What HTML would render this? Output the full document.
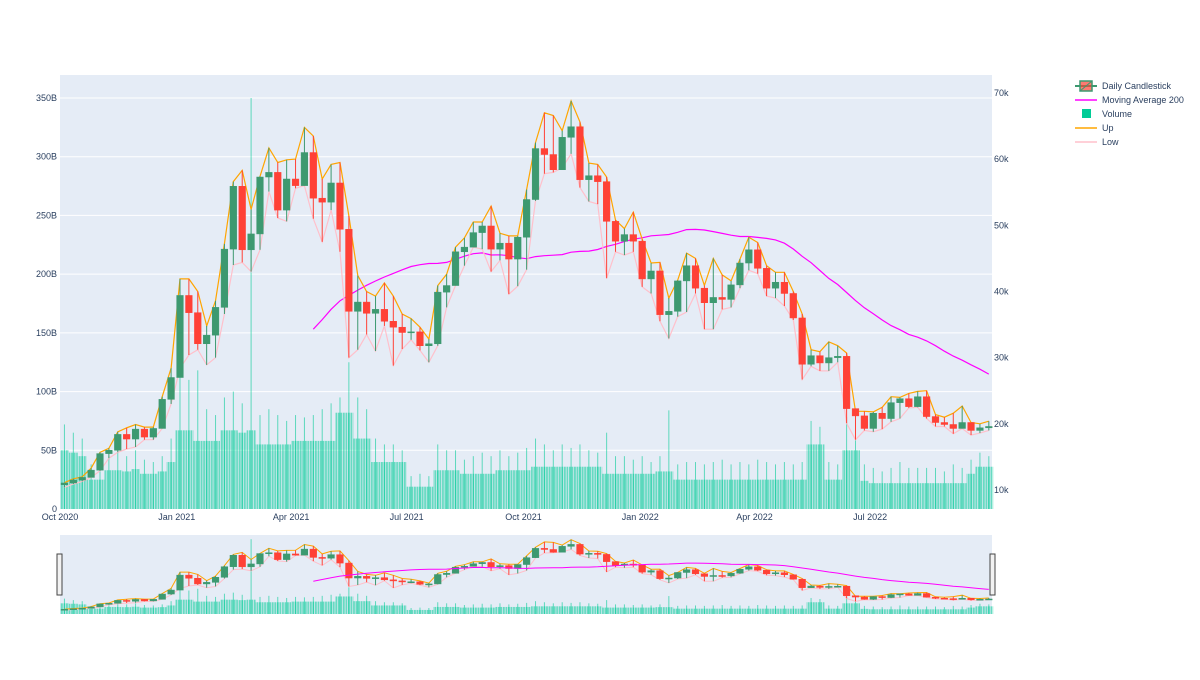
<!DOCTYPE html>
<html><head><meta charset="utf-8">
<style>
body{margin:0;background:#fff;font-family:"Liberation Sans",Arial,sans-serif;}
svg text{font-family:"Liberation Sans",Arial,sans-serif;fill:#2a3f5f;font-size:9px;}
</style></head>
<body>
<svg id="chart" width="1200" height="675" xmlns="http://www.w3.org/2000/svg">
<defs>
<pattern id="stripes" patternUnits="userSpaceOnUse" width="2.54" height="10">
<rect x="0" y="0" width="1.9" height="10" fill="#00cc96" fill-opacity="0.55"/>
</pattern>
</defs>
<rect x="60" y="75" width="932" height="434" fill="#e5ecf6"/>
<rect x="60" y="535" width="932" height="79" fill="#e5ecf6"/>
<g id="grid"></g>
<g id="vol"></g>
<g id="ma"></g>
<g id="bands"></g>
<g id="candles"></g>
<g id="slider"></g>
<g id="axes"></g>
<rect x="57" y="554" width="5" height="41" fill="#f2f2f2" stroke="#444" stroke-width="1"/>
<rect x="990" y="554" width="5" height="41" fill="#f2f2f2" stroke="#444" stroke-width="1"/>
<g>
 <g>
  <line x1="1075" y1="86" x2="1097" y2="86" stroke="#3D9970" stroke-width="2"/>
  <rect x="1080" y="81" width="12" height="10" fill="#FF4136" fill-opacity="0.7" stroke="#3D9970" stroke-width="1.5"/>
  <line x1="1080" y1="91" x2="1092" y2="81" stroke="#3D9970" stroke-width="1"/>
  <text x="1102" y="89">Daily Candlestick</text></g>
 <g>
  <line x1="1075" y1="100" x2="1097" y2="100" stroke="#ff00ff" stroke-width="1.5"/>
  <text x="1102" y="103">Moving Average 200</text></g>
 <g>
  <rect x="1082" y="109" width="9" height="9" fill="#00cc96"/>
  <text x="1102" y="117">Volume</text></g>
 <g>
  <line x1="1075" y1="128" x2="1097" y2="128" stroke="#ffa500" stroke-width="1.5"/>
  <text x="1102" y="131">Up</text></g>
 <g>
  <line x1="1075" y1="142" x2="1097" y2="142" stroke="#ffc0cb" stroke-width="1.5"/>
  <text x="1102" y="145">Low</text></g>
</g>
</svg>
<script>
// weekly data (thousands USD), starting week of Oct 1 2020
const closes=[11.06,11.5,11.9,13.0,15.5,16.0,18.4,17.7,19.2,18.0,19.3,23.7,27.0,39.4,36.8,32.1,33.4,37.6,46.4,55.9,46.3,48.7,57.3,58.0,52.3,57.0,56.0,61.0,54.1,53.5,56.4,49.4,37.0,38.4,36.7,37.3,35.5,34.6,33.8,33.9,31.8,32.1,39.9,40.9,46.0,46.7,48.9,49.9,46.4,47.3,44.9,48.2,53.9,61.6,60.7,58.4,63.3,64.9,56.9,57.5,56.6,50.6,47.6,48.6,47.6,41.9,43.1,36.5,37.0,41.6,43.9,40.5,38.3,39.1,38.8,41.0,44.3,46.3,43.5,40.5,41.4,39.7,36.0,29.0,30.3,29.2,30.0,30.2,22.3,21.2,19.3,21.6,20.8,23.2,23.8,22.6,24.1,21.1,20.2,19.9,19.3,20.2,19.0,19.4,19.6];
const highs=[11.1,11.7,12.0,13.3,15.7,16.3,18.8,19.4,19.9,19.5,19.5,24.1,28.4,41.9,41.9,40.0,34.8,38.6,47.2,56.6,58.3,52.4,57.4,61.7,59.5,59.9,60.0,64.8,63.5,57.0,59.2,59.5,51.4,42.4,40.0,39.3,41.3,39.3,36.6,35.9,34.6,32.8,40.9,42.6,46.7,48.1,50.5,50.5,52.9,48.8,48.4,48.4,55.4,62.5,67.0,66.6,64.3,68.8,65.6,59.4,59.2,57.3,50.8,49.5,52.0,47.9,44.3,44.4,39.0,41.7,45.8,45.0,40.9,45.0,42.5,41.6,44.9,48.2,47.4,43.9,42.9,42.9,40.0,36.6,31.2,30.9,32.4,31.8,30.7,21.9,21.9,21.8,22.5,24.1,24.0,24.6,24.9,25.0,21.4,21.0,21.6,22.7,20.2,20.0,20.4];
const lows=[10.4,10.9,11.3,11.9,12.9,14.8,15.7,16.2,16.5,17.6,17.6,19.3,23.0,28.4,30.4,31.2,28.9,30.0,36.6,44.0,44.4,43.0,46.3,55.1,51.1,50.6,55.6,56.0,51.0,47.5,52.3,46.0,30.0,31.2,33.5,31.0,34.8,28.8,31.3,32.7,31.1,29.3,31.8,37.6,40.9,43.9,46.7,46.4,43.0,44.7,39.6,40.8,43.3,53.7,57.8,58.0,58.7,60.8,55.7,53.6,53.2,42.0,46.0,45.5,46.0,40.7,39.7,35.5,32.9,36.2,36.9,39.7,34.3,34.3,37.3,37.6,40.5,43.2,42.7,39.3,39.0,37.8,35.7,26.7,28.7,28.0,28.0,29.3,20.1,17.6,19.0,18.8,19.2,20.3,20.8,22.4,22.5,20.8,19.6,19.6,18.5,19.3,18.3,18.6,19.0];
// weekly average and max daily volume (billions USD)
const volAvg=[50,48,45,25,25,33,33,32,34,30,30,32,40,67,67,58,58,58,67,67,65,67,55,55,55,55,58,58,58,58,58,82,82,60,60,40,40,40,40,19,19,19,33,33,33,30,30,30,30,33,33,33,33,36,36,36,36,36,36,36,36,30,30,30,30,30,30,32,32,25,25,25,25,25,25,25,25,25,25,25,25,25,25,25,55,55,25,25,50,50,24,22,22,22,22,22,22,22,22,22,22,22,30,36,36];
const volMax=[72,65,60,38,35,45,48,45,50,42,40,45,60,121,110,118,85,80,95,100,90,350,80,85,80,75,80,78,80,85,90,95,125,95,85,60,55,55,50,28,30,28,55,50,50,42,45,48,45,50,45,48,52,60,55,50,55,52,55,50,48,65,45,45,42,45,40,45,84,38,40,40,38,40,42,38,40,38,42,40,38,40,38,40,75,70,40,38,78,70,38,35,32,35,40,35,35,35,35,32,38,35,42,48,45];
const xTicks=["Oct 2020","Jan 2021","Apr 2021","Jul 2021","Oct 2021","Jan 2022","Apr 2022","Jul 2022"];
const xTickDays=[0,92,182,273,365,457,547,638];
const volTicks=[0,50,100,150,200,250,300,350];
const priceTicks=[10,20,30,40,50,60,70];

const NS="http://www.w3.org/2000/svg";
const X0=60,X1=992,DAYS=734;
const xs=d=>X0+d*(X1-X0)/DAYS;
const yVol=v=>509-v*411/350;
const yPrice=p=>490-(p-10)*6.617;
const sY=y=>535+(y-75)*79/434;
function el(parent,tag,attrs){const e=document.createElementNS(NS,tag);for(const k in attrs)e.setAttribute(k,attrs[k]);parent.appendChild(e);return e;}
const G=id=>document.getElementById(id);

volTicks.forEach(v=>{
  const y=yVol(v);
  if(v>0){const l=el(G('grid'),'line',{x1:X0,x2:X1,y1:y,y2:y,stroke:'#fff','stroke-width':1});
  
  }
  const t=el(G('axes'),'text',{x:57,y:y+3,'text-anchor':'end'});
  t.textContent=v===0?'0':v+'B';
  
  
});
priceTicks.forEach(p=>{
  const t=el(G('axes'),'text',{x:994,y:yPrice(p)+3});
  t.textContent=p+'k';
  
  
});
xTicks.forEach((s,i)=>{
  const t=el(G('axes'),'text',{x:xs(xTickDays[i]),y:520,'text-anchor':'middle'});
  t.textContent=s;
  
  
});

const n=closes.length;
const cx=i=>xs(i*7+3.5);
const bw=(X1-X0)/DAYS*7;

function drawVol(g,ymap,tag){
  for(let i=0;i<n;i++){
    const x=cx(i);
    const y=ymap(yVol(volAvg[i]));
    const r=el(g,'rect',{x:x-bw/2,y:y,width:bw,height:ymap(509)-y,fill:'url(#stripes)'});
    
    
    const ym=ymap(yVol(volMax[i]));
    const l=el(g,'line',{x1:x,x2:x,y1:ym,y2:ymap(509),stroke:'#00cc96','stroke-opacity':0.6,'stroke-width':1});
    
    
  }
}
function drawCandles(g,ymap,tag,w){
  for(let i=0;i<n;i++){
    const o=i===0?10.8:closes[i-1],c=closes[i];
    const col=c>=o?'#3D9970':'#FF4136';
    const x=cx(i);
    const wk=el(g,'line',{x1:x,x2:x,y1:ymap(yPrice(highs[i])),y2:ymap(yPrice(lows[i])),stroke:col,'stroke-width':1});
    
    
    const yt=ymap(yPrice(Math.max(o,c))),yb=ymap(yPrice(Math.min(o,c)));
    const b=el(g,'rect',{x:x-w/2,y:yt,width:w,height:Math.max(1,yb-yt),fill:col,stroke:col,'stroke-width':0.5});
    
    
  }
}
function linePath(g,vals,ymap,start,color,name,width){
  let d='';
  for(let i=start;i<vals.length;i++){d+=(d?'L':'M')+cx(i).toFixed(1)+','+ymap(yPrice(vals[i])).toFixed(1);}
  const p=el(g,'path',{d:d,fill:'none',stroke:color,'stroke-width':width});
  
  
}
const ma=[];
for(let i=0;i<n;i++){if(i<28){ma.push(null);continue;}let s=0;for(let j=i-28;j<=i;j++)s+=closes[j];ma.push(s/29);}
const maStart=28;
const id=y=>y;

drawVol(G('vol'),id,'');
linePath(G('bands'),lows,id,0,'#ffc0cb','low-line',1.2);
linePath(G('bands'),highs,id,0,'#ffa500','up-line',1.2);
drawCandles(G('candles'),id,'',bw*0.75);
linePath(G('ma'),ma,id,maStart,'#ff00ff','moving-average-line',1.2);
drawVol(G('slider'),sY,'slider-');
linePath(G('slider'),lows,sY,0,'#ffc0cb','slider-low-line',1);
linePath(G('slider'),highs,sY,0,'#ffa500','slider-up-line',1);
drawCandles(G('slider'),sY,'slider-',bw*0.75);
linePath(G('slider'),ma,sY,maStart,'#ff00ff','slider-moving-average',1);
</script>
</body></html>
